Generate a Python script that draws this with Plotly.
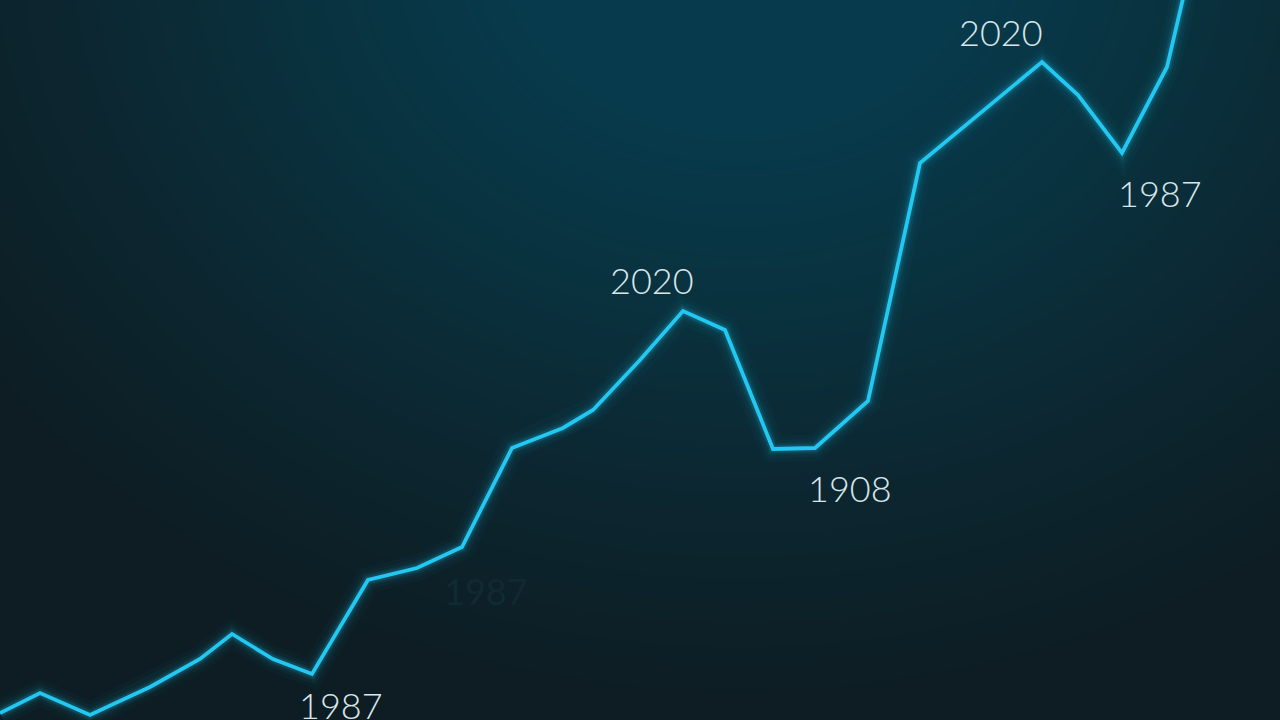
import numpy as np
import plotly.graph_objects as go

# Series (x position, value)
x_pos = [0, 40, 90, 150, 200, 232, 273, 312, 368, 417, 462, 512, 563, 593,
         640, 683, 725, 773, 815, 868, 920, 1042, 1078, 1122, 1167, 1185]
y_val = [7, 27, 5, 33, 61, 86, 61, 46, 140, 152, 173, 272, 292, 310,
         360, 409, 390, 271, 272, 319, 557, 658, 625, 567, 653, 730]

# Labels
label_text = ["2020", "1908", "2020", "1987", "1987"]
label_x = [652, 850, 1001, 1160, 341]
label_y = [440, 232, 688, 527, 15]
ghost_text = "1987"
ghost_x, ghost_y = 486, 129

W, H = 1280, 720

fig = go.Figure()

# background radial glow
gx = np.linspace(0, W, 65)
gy = np.linspace(0, H, 37)
X, Y = np.meshgrid(gx, gy)
d = np.sqrt(((X - 740) / 920) ** 2 + ((Y - (H + 60)) / 760) ** 2)
Z = np.clip(1 - d, 0, 1)
fig.add_trace(go.Heatmap(
    x=gx, y=gy, z=Z, zsmooth="best", showscale=False, hoverinfo="skip",
    colorscale=[[0, "#0d1d23"], [0.35, "#0c2630"], [0.7, "#09323f"], [1, "#073a4c"]],
    zmin=0, zmax=0.75,
))

# soft glow layers
for w, op in [(26, 0.025), (18, 0.04), (12, 0.07), (8, 0.14)]:
    fig.add_trace(go.Scatter(
        x=x_pos, y=y_val, mode="lines", hoverinfo="skip",
        line=dict(color="#1fc6f0", width=w), opacity=op, showlegend=False,
    ))
fig.add_trace(go.Scatter(
    x=x_pos, y=y_val, mode="lines",
    line=dict(color="#22c8f2", width=3.8), showlegend=False,
))

for t, lx, ly in zip(label_text, label_x, label_y):
    fig.add_annotation(x=lx, y=ly, text=t, showarrow=False,
                       font=dict(family="Lato", size=36, color="#d9e6ea", weight=300),
                       xanchor="center", yanchor="middle")
fig.add_annotation(x=ghost_x, y=ghost_y, text=ghost_text, showarrow=False,
                   font=dict(family="Lato", size=36, color="#112931"),
                   xanchor="center", yanchor="middle")

fig.update_layout(
    width=W, height=H,
    margin=dict(l=0, r=0, t=0, b=0),
    paper_bgcolor="#0d1d23", plot_bgcolor="#0d1d23",
    xaxis=dict(range=[0, W], visible=False, fixedrange=True),
    yaxis=dict(range=[0, H], visible=False, fixedrange=True),
    showlegend=False,
)

fig.write_html(
    "out.html",
    config={"displayModeBar": False},
    post_script="document.body.style.margin='0';document.body.style.overflow='hidden';",
)
